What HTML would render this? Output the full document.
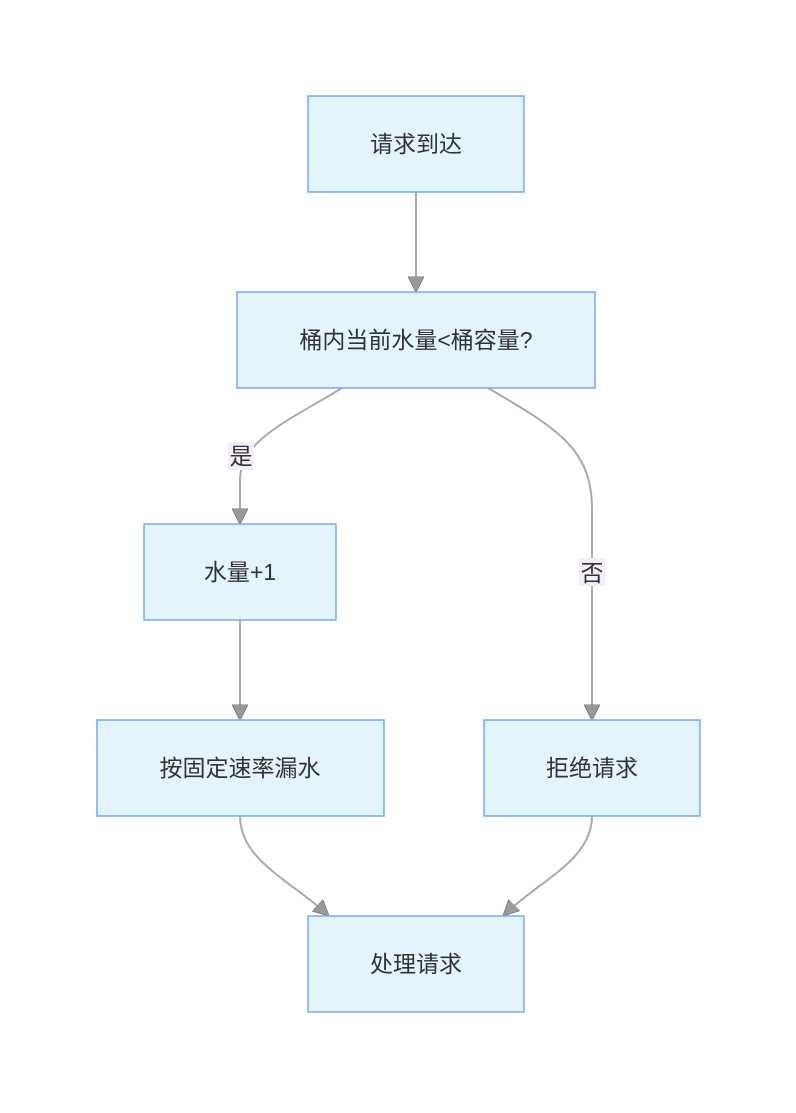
<!DOCTYPE html>
<html><head><meta charset="utf-8"><style>
body{margin:0;background:#fff;}
svg text{font-family:"Liberation Sans","Noto Sans CJK SC",sans-serif;font-size:23px;fill:#333;}
</style></head><body>
<svg width="796" height="1108" viewBox="0 0 796 1108" xmlns="http://www.w3.org/2000/svg">
<defs><marker id="a" viewBox="0 0 10 10" refX="9" refY="5" markerWidth="8" markerHeight="8" orient="auto"><path d="M0,0L10,5L0,10z" fill="#999" stroke="#777" stroke-width="0.5"/></marker></defs>
<g fill="none" stroke="#aaa" stroke-width="2">
<path d="M416,192V291" marker-end="url(#a)"/>
<path d="M342,388C290,420 240,440 240,480V523" marker-end="url(#a)"/>
<path d="M488,388C560,430 592,450 592,510V719" marker-end="url(#a)"/>
<path d="M240,620V719" marker-end="url(#a)"/>
<path d="M240,816C240,860 290,880 328,915" marker-end="url(#a)"/>
<path d="M592,816C592,860 540,880 504,915" marker-end="url(#a)"/>
</g>
<g fill="#e3f4fd" stroke="#7aa7f5" stroke-width="1.5">
<rect x="308" y="96" width="216" height="96"/>
<rect x="237" y="292" width="358" height="96"/>
<rect x="144" y="524" width="192" height="96"/>
<rect x="97" y="720" width="287" height="96"/>
<rect x="484" y="720" width="216" height="96"/>
<rect x="308" y="916" width="216" height="96"/>
</g>
<rect x="228" y="442" width="26" height="28" fill="#f3edf9"/>
<rect x="579" y="558" width="26" height="28" fill="#f3edf9"/>
<g text-anchor="middle">
<text x="416" y="152">请求到达</text>
<text x="416" y="348">桶内当前水量&lt;桶容量?</text>
<text x="240" y="580">水量+1</text>
<text x="240" y="776">按固定速率漏水</text>
<text x="592" y="776">拒绝请求</text>
<text x="416" y="972">处理请求</text>
<text x="241" y="464">是</text>
<text x="592" y="581">否</text>
</g>
</svg>
</body></html>
